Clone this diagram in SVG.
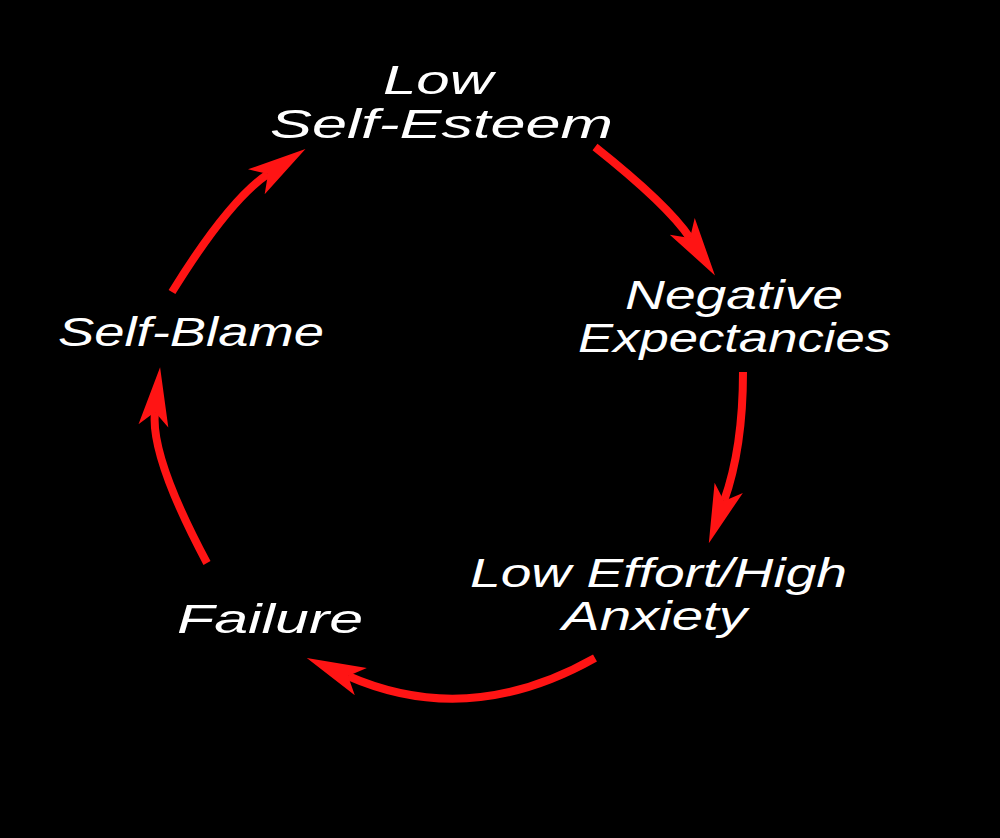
<svg xmlns="http://www.w3.org/2000/svg" width="1000" height="838" viewBox="0 0 1000 838">
  <style>
    .lbl { font-family: "Liberation Sans", "DejaVu Sans", sans-serif; font-style: italic; font-size: 40px; fill: #ffffff; }
    .arr { fill: none; stroke: #ff1414; stroke-width: 8; stroke-linecap: butt; marker-end: url(#head); }
  </style>
  <defs>
    <marker id="head" markerUnits="userSpaceOnUse" viewBox="-20 -20 70 40" markerWidth="70" markerHeight="40" refX="0" refY="0" orient="auto" overflow="visible">
      <path d="M45,0 L-14,-15 L0,0 L-14,15 Z" fill="#ff1414"/>
    </marker>
  </defs>
  <rect x="0" y="0" width="1000" height="838" fill="#000000"/>

  <g id="connectors">
    <path class="arr" d="M172,292 Q229,200 268,174"/>
    <path class="arr" d="M595,147 Q668,205 690,238"/>
    <path class="arr" d="M743,372 Q743,448 724,501"/>
    <path class="arr" d="M595,658 Q469,729 348,676"/>
    <path class="arr" d="M207,563 Q150,456 155,412"/>
  </g>

  <g id="node-low-self-esteem">
    <text class="lbl" x="383" y="94" textLength="110" lengthAdjust="spacingAndGlyphs">Low</text>
    <text class="lbl" x="270" y="138" textLength="343" lengthAdjust="spacingAndGlyphs">Self-Esteem</text>
  </g>
  <g id="node-negative-expectancies">
    <text class="lbl" x="625" y="309" textLength="218" lengthAdjust="spacingAndGlyphs">Negative</text>
    <text class="lbl" x="578" y="352" textLength="313" lengthAdjust="spacingAndGlyphs">Expectancies</text>
  </g>
  <g id="node-low-effort">
    <text class="lbl" x="470" y="587" textLength="377" lengthAdjust="spacingAndGlyphs">Low Effort/High</text>
    <text class="lbl" x="562" y="630" textLength="185" lengthAdjust="spacingAndGlyphs">Anxiety</text>
  </g>
  <g id="node-failure">
    <text class="lbl" x="177" y="633" textLength="186" lengthAdjust="spacingAndGlyphs">Failure</text>
  </g>
  <g id="node-self-blame">
    <text class="lbl" x="58" y="346" textLength="266" lengthAdjust="spacingAndGlyphs">Self-Blame</text>
  </g>
</svg>
